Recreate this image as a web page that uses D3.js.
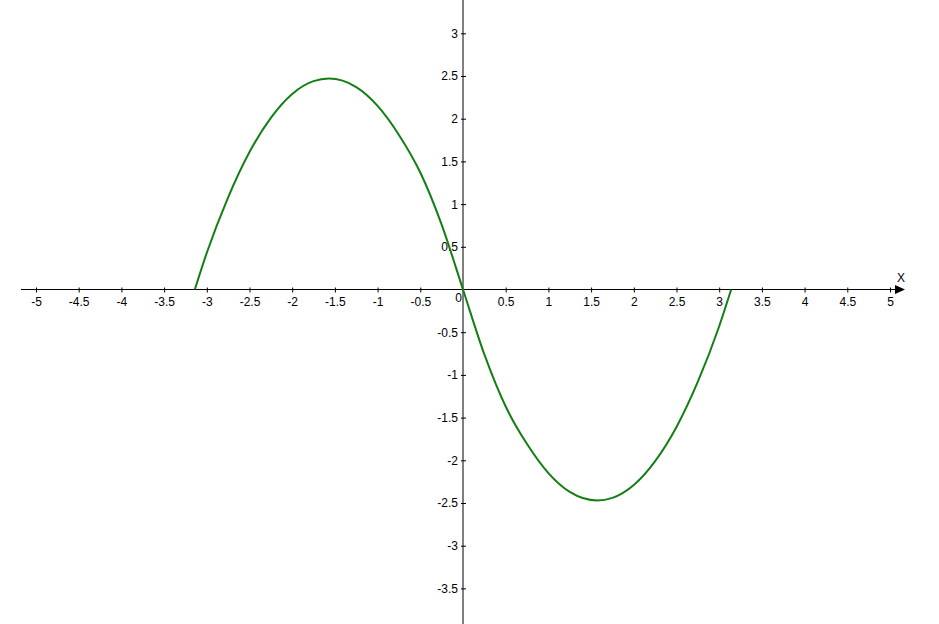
<!DOCTYPE html>
<html>
<head>
<meta charset="utf-8">
<script src="https://cdn.jsdelivr.net/npm/d3@7"></script>
<style>
  body { margin: 0; background: #fff; }
  svg { display: block; }
  text { font-family: "Liberation Sans", Arial, sans-serif; font-size: 12px; fill: #000; }
</style>
</head>
<body>
<div id="chart"></div>
<script>
// values
const curveX = [-3.14, -3.0, -2.75, -2.5, -2.25, -2.0, -1.75, -1.57, -1.25, -1.0, -0.75, -0.5, -0.25, 0,
                0.25, 0.5, 0.75, 1.0, 1.25, 1.57, 1.75, 2.0, 2.25, 2.5, 2.75, 3.0, 3.14];
const curveY = [0, 0.43, 1.08, 1.61, 2.01, 2.29, 2.44, 2.47, 2.37, 2.15, 1.81, 1.37, 0.76, 0,
                -0.76, -1.37, -1.81, -2.15, -2.37, -2.47, -2.44, -2.29, -2.01, -1.61, -1.08, -0.43, 0];
const xTicks = [-5, -4.5, -4, -3.5, -3, -2.5, -2, -1.5, -1, -0.5, 0.5, 1, 1.5, 2, 2.5, 3, 3.5, 4, 4.5, 5];
const yTicks = [-3.5, -3, -2.5, -2, -1.5, -1, -0.5, 0.5, 1, 1.5, 2, 2.5, 3];

const width = 939;
const height = 624;

const svg = d3.select("#chart")
    .append("svg")
    .attr("width", width)
    .attr("height", height);

const xScale = d3.scaleLinear().domain([-5, 5]).range([36, 890]);
const yScale = d3.scaleLinear().domain([-3.5, 3]).range([588.4, 33.3]);

const x0 = xScale(0);
const y0 = yScale(0);

// plain hyphen like the original, not the unicode minus
const fmt = d => String(d);

// x axis
const bottomAxis = d3.axisBottom(xScale)
    .tickValues(xTicks)
    .tickSizeOuter(0)
    .tickFormat(fmt);

const xAxis = svg.append("g")
    .attr("transform", `translate(0, ${y0})`)
    .call(bottomAxis);
xAxis.select(".domain").remove();
xAxis.selectAll(".tick line").attr("y1", -2).attr("y2", 3).attr("stroke", "#000");
xAxis.selectAll(".tick text")
    .attr("y", 16).attr("dy", 0)
    .style("font-size", "12px")
    .style("font-family", "'Liberation Sans', Arial, sans-serif");

svg.append("line")
    .attr("x1", 21).attr("x2", 898)
    .attr("y1", y0).attr("y2", y0)
    .attr("stroke", "#000").attr("stroke-width", 1);

svg.append("path")
    .attr("d", `M${905},${y0} L${895},${y0 - 4.5} L${895},${y0 + 4.5} Z`)
    .attr("fill", "#000");

svg.append("text")
    .attr("x", 901).attr("y", 282)
    .attr("text-anchor", "middle")
    .style("font-size", "12px")
    .text("X");

// y axis
const leftAxis = d3.axisLeft(yScale)
    .tickValues(yTicks)
    .tickSizeOuter(0)
    .tickFormat(fmt);

const yAxis = svg.append("g")
    .attr("transform", `translate(${x0}, 0)`)
    .call(leftAxis);
yAxis.select(".domain").remove();
yAxis.selectAll(".tick line").attr("x1", -2).attr("x2", 3).attr("stroke", "#000");
yAxis.selectAll(".tick text")
    .attr("x", -5).attr("dy", "0.33em")
    .style("font-size", "12px")
    .style("font-family", "'Liberation Sans', Arial, sans-serif");

svg.append("line")
    .attr("x1", x0).attr("x2", x0)
    .attr("y1", 0).attr("y2", height)
    .attr("stroke", "#000").attr("stroke-width", 1);

svg.append("text")
    .attr("x", x0 - 1).attr("y", 302)
    .attr("text-anchor", "end")
    .text("0");

// the curve
const points = curveX.map((x, i) => ({ x: x, y: curveY[i] }));

const line = d3.line()
    .x(d => xScale(d.x))
    .y(d => yScale(d.y))
    .curve(d3.curveMonotoneX);

svg.append("path")
    .datum(points)
    .attr("d", line)
    .attr("fill", "none")
    .attr("stroke", "#137f13")
    .attr("stroke-width", 2);
</script>
</body>
</html>
